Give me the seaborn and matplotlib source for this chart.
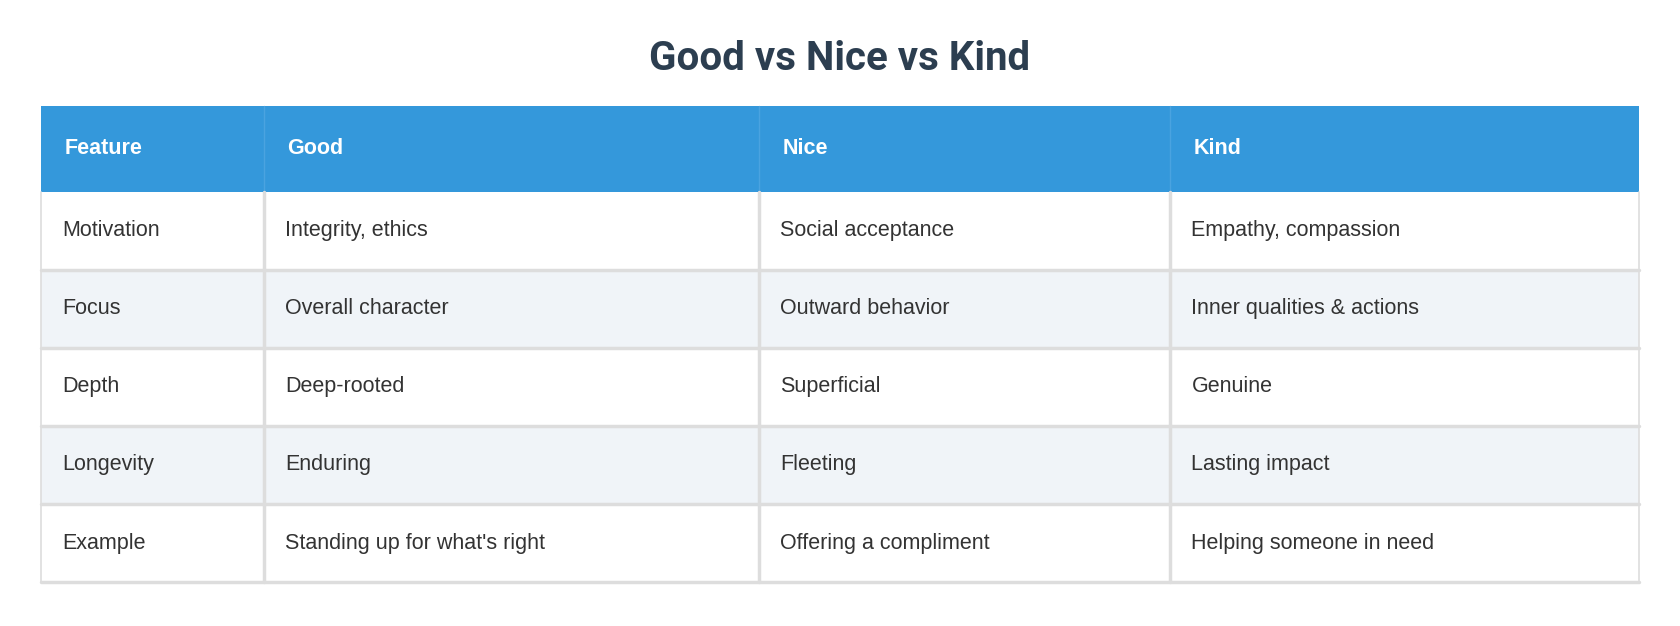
import matplotlib
matplotlib.use("Agg")
import matplotlib.pyplot as plt
import seaborn as sns
from matplotlib.patches import Rectangle

sns.set_theme(style="white")

title = "Good vs Nice vs Kind"
columns = ["Feature", "Good", "Nice", "Kind"]
features = ["Motivation", "Focus", "Depth", "Longevity", "Example"]
good = ["Integrity, ethics", "Overall character", "Deep-rooted", "Enduring",
        "Standing up for what's right"]
nice = ["Social acceptance", "Outward behavior", "Superficial", "Fleeting",
        "Offering a compliment"]
kind = ["Empathy, compassion", "Inner qualities & actions", "Genuine",
        "Lasting impact", "Helping someone in need"]

# layout in reference pixel space (1568 x 585)
W, H = 1568, 585
col_x = [38, 246, 708, 1092, 1530]
head_top, head_bot = 99, 179
row_h = 73

fig = plt.figure(figsize=(16.8, 6.26), dpi=100)
ax = fig.add_axes([0, 0, 1, 1])
ax.set_xlim(0, W)
ax.set_ylim(H, 0)
ax.axis("off")

ax.text(W / 2, 55, title, ha="center", va="center", fontsize=29,
        fontweight="bold", color="#2c3e50", family=["Roboto", "DejaVu Sans"])

ax.add_patch(Rectangle((col_x[0], head_top), col_x[-1] - col_x[0],
                       head_bot - head_top, color="#3498db", lw=0))
for i, c in enumerate(columns):
    if i > 0:
        ax.plot([col_x[i]] * 2, [head_top, head_bot], color="#4aa3e0", lw=1)
    ax.text(col_x[i] + 22, (head_top + head_bot) / 2, c, ha="left", va="center",
            fontsize=15.5, fontweight="bold", color="white",
            family=["Liberation Sans", "DejaVu Sans"])

rows = list(zip(features, good, nice, kind))
for r, vals in enumerate(rows):
    y0 = head_bot + r * row_h
    bg = "#f0f4f8" if r % 2 == 1 else "white"
    ax.add_patch(Rectangle((col_x[0], y0), col_x[-1] - col_x[0], row_h,
                           facecolor=bg, edgecolor="none"))
    ax.plot([col_x[0], col_x[-1]], [y0 + row_h] * 2, color="#dddddd", lw=2.5)
    for i, v in enumerate(vals):
        ax.text(col_x[i] + 20, y0 + row_h / 2, v, ha="left", va="center",
                fontsize=15.5, color="#333333",
                family=["Liberation Sans", "DejaVu Sans"])

table_bot = head_bot + len(rows) * row_h
for i, x in enumerate(col_x):
    lw = 1.2 if i in (0, len(col_x) - 1) else 2.5
    ax.plot([x, x], [head_bot, table_bot], color="#dddddd", lw=lw)
ax.plot([col_x[0], col_x[-1]], [table_bot] * 2, color="#dddddd", lw=1.2)

fig.savefig("out.png", dpi=100)
